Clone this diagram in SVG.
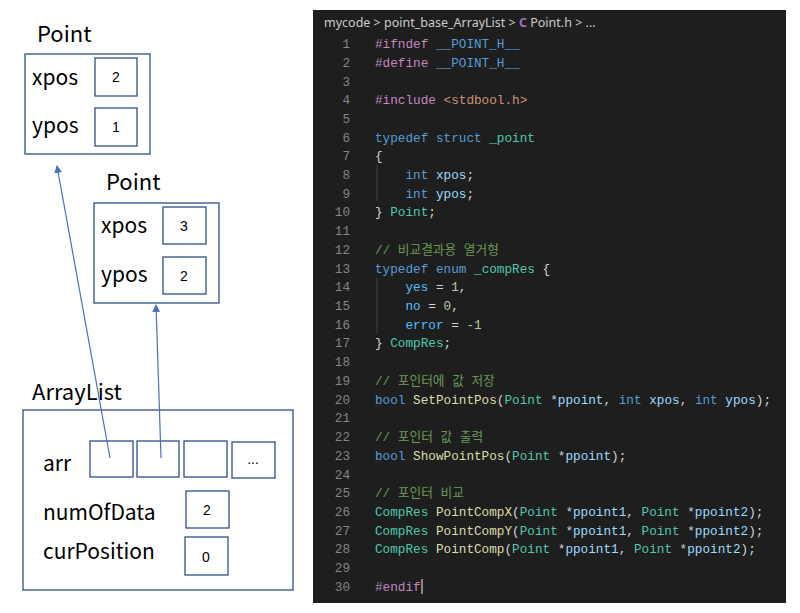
<svg xmlns="http://www.w3.org/2000/svg" width="800" height="613" viewBox="0 0 800 613">
<style>
.t{font-family:"Malgun Gothic","Noto Sans CJK KR","Liberation Sans",sans-serif;fill:#000}
.b{fill:#fff;stroke:#2f4f8a;stroke-width:1.3}
.v{font-family:"Liberation Sans",sans-serif;font-size:14px;text-anchor:middle;fill:#000}
.c{font-family:"Liberation Mono","Noto Sans CJK KR",monospace;font-size:12.7px;fill:#d4d4d4;white-space:pre}
.n{font-family:"Liberation Mono",monospace;font-size:12.7px;fill:#858585;text-anchor:end}
.k{fill:#569cd6}.p{fill:#c586c0}.ty{fill:#4ec9b0}.f{fill:#dcdcaa}.va{fill:#9cdcfe}.cm{fill:#6a9955}.nu{fill:#b5cea8}.s{fill:#ce9178}.e{fill:#4fc1ff}
.con{stroke:#4472c4;stroke-width:1.2;fill:none;marker-end:url(#ah)}
</style>
<defs><marker id="ah" markerWidth="8" markerHeight="8" refX="7" refY="4" orient="auto" markerUnits="userSpaceOnUse"><path d="M0,0 L8,4 L0,8 z" fill="#4472c4"/></marker></defs>
<rect width="800" height="613" fill="#fff"/>
<g id="point1">
<text class="t" x="37" y="42" font-size="22">Point</text>
<rect class="b" x="25" y="54" width="125" height="100"/>
<text class="t" x="32" y="85" font-size="21">xpos</text>
<rect class="b" x="95" y="58" width="42" height="38"/><text class="v" x="116" y="82">2</text>
<text class="t" x="32" y="133" font-size="21">ypos</text>
<rect class="b" x="95" y="108" width="42" height="38"/><text class="v" x="116" y="132">1</text>
</g>
<g id="point2">
<text class="t" x="106" y="190" font-size="22">Point</text>
<rect class="b" x="94" y="203" width="125" height="100"/>
<text class="t" x="101" y="233" font-size="21">xpos</text>
<rect class="b" x="163" y="207" width="43" height="37"/><text class="v" x="184" y="231">3</text>
<text class="t" x="101" y="282" font-size="21">ypos</text>
<rect class="b" x="163" y="257" width="43" height="37"/><text class="v" x="184" y="281">2</text>
</g>
<g id="arraylist">
<text class="t" x="32" y="400" font-size="22">ArrayList</text>
<rect class="b" x="23" y="410" width="270" height="180"/>
<text class="t" x="43" y="471" font-size="21">arr</text>
<rect class="b" x="90" y="441" width="43" height="36"/>
<rect class="b" x="137" y="441" width="42" height="36"/>
<rect class="b" x="184" y="441" width="43" height="36"/>
<rect class="b" x="232" y="442" width="43" height="36"/><text class="v" x="253" y="464">...</text>
<text class="t" x="43" y="520" font-size="21">numOfData</text>
<rect class="b" x="186" y="491" width="43" height="37"/><text class="v" x="207" y="515">2</text>
<text class="t" x="43" y="559" font-size="21">curPosition</text>
<rect class="b" x="185" y="537" width="43" height="38"/><text class="v" x="206" y="562">0</text>
</g>
<g id="connectors">
<path class="con" d="M110,458 L57,166"/>
<path class="con" d="M161,458 L156,305"/>
</g>
<g id="code">
<rect x="313" y="10" width="473" height="593" fill="#1e1e1e"/>
<text x="324" y="27" font-family="'Segoe UI','Noto Sans',sans-serif" font-size="12.5" fill="#cccccc">mycode &gt; point_base_ArrayList &gt; <tspan fill="#a074c4" font-weight="bold">C</tspan> Point.h &gt; ...</text>
<line x1="377" y1="165" x2="377" y2="201" stroke="#404040"/>
<line x1="377" y1="278" x2="377" y2="333" stroke="#404040"/>
<g>
<text class="n" x="350" y="48">1</text><text class="c" x="375" y="48"><tspan class="p">#ifndef</tspan> <tspan class="k">__POINT_H__</tspan></text>
<text class="n" x="350" y="67">2</text><text class="c" x="375" y="67"><tspan class="p">#define</tspan> <tspan class="k">__POINT_H__</tspan></text>
<text class="n" x="350" y="86">3</text>
<text class="n" x="350" y="104">4</text><text class="c" x="375" y="104"><tspan class="p">#include</tspan> <tspan class="s">&lt;stdbool.h&gt;</tspan></text>
<text class="n" x="350" y="123">5</text>
<text class="n" x="350" y="142">6</text><text class="c" x="375" y="142"><tspan class="k">typedef</tspan> <tspan class="k">struct</tspan> <tspan class="ty">_point</tspan></text>
<text class="n" x="350" y="160">7</text><text class="c" x="375" y="160">{</text>
<text class="n" x="350" y="179">8</text><text class="c" x="375" y="179">    <tspan class="k">int</tspan> <tspan class="va">xpos</tspan>;</text>
<text class="n" x="350" y="198">9</text><text class="c" x="375" y="198">    <tspan class="k">int</tspan> <tspan class="va">ypos</tspan>;</text>
<text class="n" x="350" y="216">10</text><text class="c" x="375" y="216">} <tspan class="ty">Point</tspan>;</text>
<text class="n" x="350" y="235">11</text>
<text class="n" x="350" y="254">12</text><text class="c cm" x="375" y="254">// 비교결과용 열거형</text>
<text class="n" x="350" y="273">13</text><text class="c" x="375" y="273"><tspan class="k">typedef</tspan> <tspan class="k">enum</tspan> <tspan class="ty">_compRes</tspan> {</text>
<text class="n" x="350" y="291">14</text><text class="c" x="375" y="291">    <tspan class="e">yes</tspan> = <tspan class="nu">1</tspan>,</text>
<text class="n" x="350" y="310">15</text><text class="c" x="375" y="310">    <tspan class="e">no</tspan> = <tspan class="nu">0</tspan>,</text>
<text class="n" x="350" y="329">16</text><text class="c" x="375" y="329">    <tspan class="e">error</tspan> = <tspan class="nu">-1</tspan></text>
<text class="n" x="350" y="347">17</text><text class="c" x="375" y="347">} <tspan class="ty">CompRes</tspan>;</text>
<text class="n" x="350" y="366">18</text>
<text class="n" x="350" y="385">19</text><text class="c cm" x="375" y="385">// 포인터에 값 저장</text>
<text class="n" x="350" y="404">20</text><text class="c" x="375" y="404"><tspan class="k">bool</tspan> <tspan class="f">SetPointPos</tspan>(<tspan class="ty">Point</tspan> *<tspan class="va">ppoint</tspan>, <tspan class="k">int</tspan> <tspan class="va">xpos</tspan>, <tspan class="k">int</tspan> <tspan class="va">ypos</tspan>);</text>
<text class="n" x="350" y="422">21</text>
<text class="n" x="350" y="441">22</text><text class="c cm" x="375" y="441">// 포인터 값 출력</text>
<text class="n" x="350" y="460">23</text><text class="c" x="375" y="460"><tspan class="k">bool</tspan> <tspan class="f">ShowPointPos</tspan>(<tspan class="ty">Point</tspan> *<tspan class="va">ppoint</tspan>);</text>
<text class="n" x="350" y="479">24</text>
<text class="n" x="350" y="497">25</text><text class="c cm" x="375" y="497">// 포인터 비교</text>
<text class="n" x="350" y="516">26</text><text class="c" x="375" y="516"><tspan class="ty">CompRes</tspan> <tspan class="f">PointCompX</tspan>(<tspan class="ty">Point</tspan> *<tspan class="va">ppoint1</tspan>, <tspan class="ty">Point</tspan> *<tspan class="va">ppoint2</tspan>);</text>
<text class="n" x="350" y="535">27</text><text class="c" x="375" y="535"><tspan class="ty">CompRes</tspan> <tspan class="f">PointCompY</tspan>(<tspan class="ty">Point</tspan> *<tspan class="va">ppoint1</tspan>, <tspan class="ty">Point</tspan> *<tspan class="va">ppoint2</tspan>);</text>
<text class="n" x="350" y="553">28</text><text class="c" x="375" y="553"><tspan class="ty">CompRes</tspan> <tspan class="f">PointComp</tspan>(<tspan class="ty">Point</tspan> *<tspan class="va">ppoint1</tspan>, <tspan class="ty">Point</tspan> *<tspan class="va">ppoint2</tspan>);</text>
<text class="n" x="350" y="572">29</text>
<text class="n" x="350" y="591" fill="#c6c6c6">30</text><text class="c" x="375" y="591"><tspan class="p">#endif</tspan></text>
<line x1="422" y1="579" x2="422" y2="594" stroke="#aeafad" stroke-width="1.5"/>
</g>
</g>
</svg>
